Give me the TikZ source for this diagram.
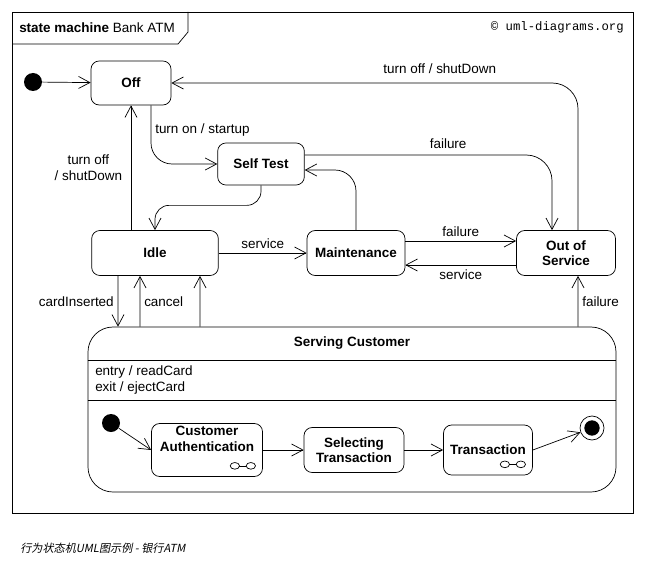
\documentclass[tikz,border=0pt]{standalone}
\usepackage{fontspec}
\setmainfont{Liberation Sans}
\newfontfamily\cjk{Noto Sans CJK SC}[FakeSlant=0.2]
\newfontfamily\cpr{Liberation Mono}
\usetikzlibrary{arrows.meta,positioning,calc}
\tikzset{
  st/.style={draw,rounded corners=7pt,font=\fontsize{11.5}{13}\selectfont\bfseries,align=center,inner sep=1pt},
  tr/.style={-{Straight Barb[length=0.34cm,width=0.36cm]}},
  lab/.style={font=\fontsize{11.5}{13}\selectfont,align=center},
  dot/.style={circle,fill=black,minimum size=0.54cm,inner sep=0pt}
}
\newcommand\subicon[1]
{
\draw (#1) ++(-8,0) ellipse (0.14cm and 0.1cm);
\draw (#1) ++(8,0) ellipse (0.14cm and 0.1cm);
\draw (#1) ++(-3.4,0) -- ++(6.8,0);
}
\begin{document}
\begin{tikzpicture}[x=0.03cm,y=-0.03cm,line width=0.6pt,font=\fontsize{11.5}{13}\selectfont]
\useasboundingbox (0,0) rectangle (655,569);
% frame
\draw (12,12) rectangle (633,513);
\draw (12,44) -- (178,44) -- (188,32) -- (188,12);
\node[anchor=west] (title) at (15,28) {\textbf{state machine} Bank ATM};
\node[anchor=east,font=\cpr\fontsize{10.5}{12}\selectfont] (copy) at (628,27) {\textcopyright\ uml-diagrams.org};
% states
\node[dot] (init) at (33,82) {};
\node[st,minimum width=2.4cm,minimum height=1.32cm] (Off) at (131,83) {Off};
\node[st,minimum width=2.6cm,minimum height=1.26cm] (ST) at (261,164) {Self Test};
\node[st,minimum width=3.8cm,minimum height=1.35cm] (Idle) at (155,253) {Idle};
\node[st,minimum width=2.94cm,minimum height=1.35cm] (Maint) at (356,253) {Maintenance};
\node[st,minimum width=2.97cm,minimum height=1.35cm] (OOS) at (566,253) {Out of\\Service};
\node[draw,rounded corners=0.75cm,minimum width=15.84cm,minimum height=4.95cm] (SC) at (352,409.5) {};
\node[font=\fontsize{11.5}{13}\selectfont\bfseries] (SCname) at (352,343) {Serving Customer};
\draw (SC.west |- 0,360) -- (SC.east |- 0,360);
\draw (SC.west |- 0,400) -- (SC.east |- 0,400);
\node[anchor=west,align=left] (acts) at (91,380) {entry / readCard\\exit / ejectCard};
% inner states
\node[dot] (ci) at (111,423) {};
\node[st,minimum width=3.33cm,minimum height=1.59cm] (CA) at (207,450) {Customer\\Authentication\\[6pt]};
\node[st,minimum width=3cm,minimum height=1.35cm] (SelT) at (354,450) {Selecting\\Transaction};
\node[st,minimum width=2.67cm,minimum height=1.5cm] (T) at (488,450) {Transaction};
\node[circle,draw,minimum size=0.72cm,inner sep=0pt] (fin) at (592,428) {};
\node[dot,minimum size=0.46cm] (fincore) at (fin) {};
\subicon{$(CA.south east)+(-20,-11)$}
\subicon{$(T.south east)+(-20,-11)$}
% transitions
\draw[tr] (init) -- (Off);
\draw[tr,rounded corners=18pt] ($(Off.south)+(20,0)$) |- node[lab,pos=0.3,above right=0pt] {turn on / startup} (ST.west);
\draw[tr,rounded corners=12pt] (ST.south) -- ++(0,20) -| (Idle.north);
\draw[tr] (Off.south |- Idle.north) -- node[lab,left=4pt] {turn off\\/ shutDown} (Off.south);
\draw[tr,rounded corners=18pt] (Maint.north) |- ($(ST.east)+(0,6)$);
\draw[tr,rounded corners=22pt] ($(ST.east)+(0,-9)$) -| node[lab,pos=0.29,above=2pt] {failure} ($(OOS.north)+(-14,0)$);
\draw[tr,rounded corners=22pt] ($(OOS.north)+(12,0)$) |- node[lab,pos=0.67,above=4pt] {turn off / shutDown} (Off.east);
\draw[tr] (Idle) -- node[lab,above] {service} (Maint);
\draw[tr] ([yshift=0.36cm]Maint.east) -- node[lab,above] {failure} ([yshift=0.36cm]OOS.west);
\draw[tr] ([yshift=-0.36cm]OOS.west) -- node[lab,below] {service} ([yshift=-0.36cm]Maint.east);
\draw[tr] ([xshift=-1.11cm]Idle.south) -- node[lab,left] {cardInserted} ([xshift=-7.02cm]SC.north);
\draw[tr] ([xshift=-6.36cm]SC.north) -- node[lab,right] {cancel} ([xshift=-0.45cm]Idle.south);
\draw[tr] ([xshift=-4.56cm]SC.north) -- ([xshift=1.35cm]Idle.south);
\draw[tr] ([xshift=6.78cm]SC.north) -- node[lab,right] {failure} ([xshift=0.36cm]OOS.south);
\draw[tr] (ci) -- (CA.west);
\draw[tr] (CA) -- (SelT);
\draw[tr] (SelT) -- (T);
\draw[tr] (T.east) -- (fin);
% caption
\node[anchor=west,font=\cjk\fontsize{9.5}{11}\selectfont] (cap) at (16,548) {行为状态机UML图示例 - 银行ATM};
\end{tikzpicture}
\end{document}
